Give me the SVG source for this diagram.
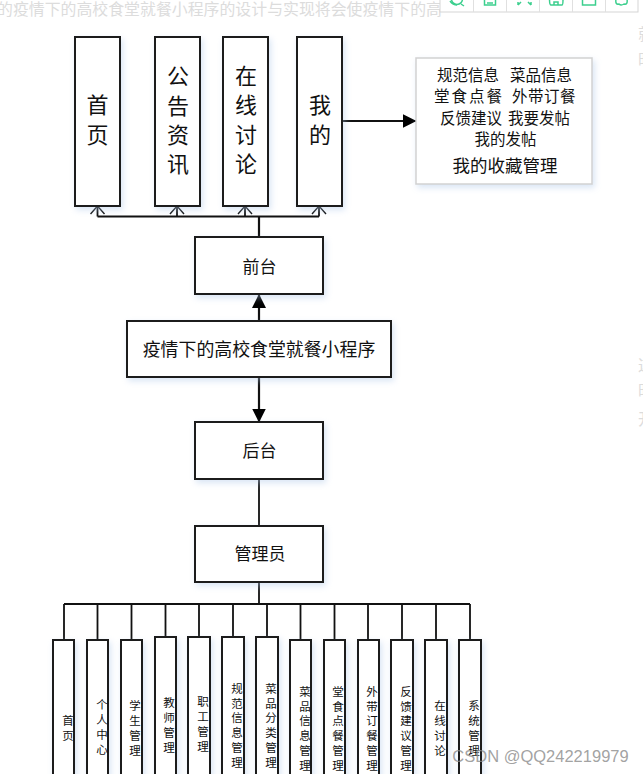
<svg xmlns="http://www.w3.org/2000/svg" width="643" height="774" viewBox="0 0 643 774">
<style>
text{font-family:"Noto Sans CJK SC","Liberation Sans",sans-serif;fill:#111;text-anchor:middle}
.b{fill:#fff;stroke:#1a1a1a;stroke-width:2;filter:url(#s)}
.t{font-size:17px}.v{font-size:22px}.m{font-size:11.500px}.p{font-size:15.500px}
.c{fill:none;stroke:#111;stroke-width:1.800}.h{stroke-width:2.200}
.bg{font-size:15.900px;fill:#dcdcdc;text-anchor:start}
.i{fill:none;stroke:#3ccf8e;stroke-width:1.500}
</style>
<defs>
<filter id="s" x="-30%" y="-30%" width="170%" height="160%"><feDropShadow dx="2" dy="3" stdDeviation="3" flood-color="#a9c4e8" flood-opacity=".45"/></filter>
<marker id="f" markerUnits="userSpaceOnUse" markerWidth="14" markerHeight="14" refX="13.500" refY="7" orient="auto"><path d="M0 0L14 7L0 14Z" fill="#000"/></marker>
<marker id="o" markerUnits="userSpaceOnUse" markerWidth="12" markerHeight="16" refX="9" refY="8" orient="auto"><path d="M1 1L9 8L1 15" fill="none" stroke="#111" stroke-width="1.400"/></marker>
</defs>
<g id="page-background">
<text class="bg" x="-3" y="15">的疫情下的高校食堂就餐小程序的设计与实现将会使疫情下的高</text>
<text class="bg" x="638" y="40">就</text><text class="bg" x="638" y="65">时</text>
<text class="bg" x="638" y="371">这</text><text class="bg" x="638" y="396">时</text><text class="bg" x="638" y="425">开</text>
<rect x="440" y="-2" width="198" height="14" fill="#fff" stroke="#d5d5d5"/>
<path d="M473.500 0V12M506.500 0V12M539.500 0V12M572.500 0V12M605.500 0V12" stroke="#e0e0e0"/>
<circle cx="457" cy="-1" r="5.500" class="i"/><path d="M461 4L464 6M450 1Q453 5 457 5" class="i"/>
<path d="M484.500 -1V5H495.500V-1M487 3H493" class="i"/>
<path d="M518 5L521 2M528 2L531 5M518 5V2M531 5V2" class="i"/>
<path d="M549.500 -1Q549.500 5 551 5H562Q563 5 563 -1M554 5V2H558V5" class="i"/>
<path d="M582.500 -1V5H595.500V-1" class="i"/>
<path d="M616 -1Q615 5 619 4Q621 6 624 4Q628 5 627 -1" class="i"/>
</g>
<g id="connectors">
<path class="c h" d="M259 237V216.500M97.500 216.500H319"/>
<path class="c" d="M97.500 216.500V206" marker-end="url(#o)"/>
<path class="c" d="M177 216.500V206" marker-end="url(#o)"/>
<path class="c" d="M245 216.500V206" marker-end="url(#o)"/>
<path class="c" d="M319 216.500V206" marker-end="url(#o)"/>
<path class="c h" d="M342 121H416" marker-end="url(#f)"/>
<path class="c h" d="M259 321V294.500" marker-end="url(#f)"/>
<path class="c h" d="M259 377V422" marker-end="url(#f)"/>
<path class="c" d="M259 479V526M259 582V604M64 604H470"/>
<path class="c" d="M64 604V640M97.500 604V640M131.500 604V640M165.500 604V637M199 604V637M233 604V637M267 604V637M300.500 604V640M334.500 604V640M368 604V640M402 604V640M436 604V640M470 604V640"/>
</g>
<g id="n-home"><rect class="b" x="75" y="37" width="45" height="169"/><text class="v" x="97.500" y="113">首</text><text class="v" x="97.500" y="143">页</text></g>
<g id="n-notice"><rect class="b" x="155" y="37" width="45" height="169"/><text class="v" x="178" y="84">公</text><text class="v" x="178" y="114">告</text><text class="v" x="178" y="143">资</text><text class="v" x="178" y="172">讯</text></g>
<g id="n-forum"><rect class="b" x="223" y="37" width="45" height="169"/><text class="v" x="246" y="84">在</text><text class="v" x="246" y="113">线</text><text class="v" x="246" y="143">讨</text><text class="v" x="246" y="172">论</text></g>
<g id="n-mine"><rect class="b" x="297" y="37" width="45" height="169"/><text class="v" x="320" y="113">我</text><text class="v" x="320" y="143">的</text></g>
<g id="n-panel"><rect x="416" y="58" width="176" height="126" fill="#fff" stroke="#d2d2d2" stroke-width="1.500" filter="url(#s)"/>
<text class="p" x="504.500" y="81"><tspan>规范信息</tspan><tspan dx="11">菜品信息</tspan></text>
<text class="p" x="505" y="102"><tspan letter-spacing="2">堂食点餐</tspan><tspan dx="8" letter-spacing=".5">外带订餐</tspan></text>
<text class="p" x="505" y="124"><tspan>反馈建议</tspan><tspan dx="6">我要发帖</tspan></text>
<text class="p" x="505.500" y="145">我的发帖</text>
<text x="505" y="172" font-size="17.500">我的收藏管理</text></g>
<g id="n-front"><rect class="b" x="195" y="237" width="128" height="57"/><text class="t" x="259.500" y="273">前台</text></g>
<g id="n-main"><rect class="b" x="127" y="321" width="264" height="56"/><text x="259" y="356" font-size="17.900">疫情下的高校食堂就餐小程序</text></g>
<g id="n-back"><rect class="b" x="195" y="422" width="128" height="57"/><text class="t" x="259.500" y="457">后台</text></g>
<g id="n-admin"><rect class="b" x="195" y="526" width="128" height="56"/><text class="t" x="260" y="560">管理员</text></g>
<g id="n-m1"><rect class="b" x="53" y="640" width="21" height="150"/><text class="m" x="68" y="725"><tspan x="68">首</tspan><tspan x="68" dy="15">页</tspan></text></g>
<g id="n-m2"><rect class="b" x="87" y="640" width="21" height="150"/><text class="m" x="102" y="709"><tspan x="102">个</tspan><tspan x="102" dy="15">人</tspan><tspan x="102" dy="15">中</tspan><tspan x="102" dy="15">心</tspan></text></g>
<g id="n-m3"><rect class="b" x="121" y="640" width="21" height="150"/><text class="m" x="135" y="710"><tspan x="135">学</tspan><tspan x="135" dy="15">生</tspan><tspan x="135" dy="15">管</tspan><tspan x="135" dy="15">理</tspan></text></g>
<g id="n-m4"><rect class="b" x="155" y="637" width="21" height="150"/><text class="m" x="169" y="707"><tspan x="169">教</tspan><tspan x="169" dy="15">师</tspan><tspan x="169" dy="15">管</tspan><tspan x="169" dy="15">理</tspan></text></g>
<g id="n-m5"><rect class="b" x="188" y="637" width="22" height="150"/><text class="m" x="203" y="706"><tspan x="203">职</tspan><tspan x="203" dy="15">工</tspan><tspan x="203" dy="15">管</tspan><tspan x="203" dy="15">理</tspan></text></g>
<g id="n-m6"><rect class="b" x="222" y="637" width="22" height="150"/><text class="m" x="237" y="693"><tspan x="237">规</tspan><tspan x="237" dy="14.700">范</tspan><tspan x="237" dy="14.700">信</tspan><tspan x="237" dy="14.700">息</tspan><tspan x="237" dy="14.700">管</tspan><tspan x="237" dy="14.700">理</tspan></text></g>
<g id="n-m7"><rect class="b" x="256" y="637" width="22" height="150"/><text class="m" x="271" y="693"><tspan x="271">菜</tspan><tspan x="271" dy="14.700">品</tspan><tspan x="271" dy="14.700">分</tspan><tspan x="271" dy="14.700">类</tspan><tspan x="271" dy="14.700">管</tspan><tspan x="271" dy="14.700">理</tspan></text></g>
<g id="n-m8"><rect class="b" x="290" y="640" width="21" height="150"/><text class="m" x="305" y="696"><tspan x="305">菜</tspan><tspan x="305" dy="14.700">品</tspan><tspan x="305" dy="14.700">信</tspan><tspan x="305" dy="14.700">息</tspan><tspan x="305" dy="14.700">管</tspan><tspan x="305" dy="14.700">理</tspan></text></g>
<g id="n-m9"><rect class="b" x="324" y="640" width="21" height="150"/><text class="m" x="338" y="696"><tspan x="338">堂</tspan><tspan x="338" dy="14.700">食</tspan><tspan x="338" dy="14.700">点</tspan><tspan x="338" dy="14.700">餐</tspan><tspan x="338" dy="14.700">管</tspan><tspan x="338" dy="14.700">理</tspan></text></g>
<g id="n-m10"><rect class="b" x="358" y="640" width="21" height="150"/><text class="m" x="372" y="696"><tspan x="372">外</tspan><tspan x="372" dy="14.700">带</tspan><tspan x="372" dy="14.700">订</tspan><tspan x="372" dy="14.700">餐</tspan><tspan x="372" dy="14.700">管</tspan><tspan x="372" dy="14.700">理</tspan></text></g>
<g id="n-m11"><rect class="b" x="391" y="640" width="22" height="150"/><text class="m" x="406" y="696"><tspan x="406">反</tspan><tspan x="406" dy="14.700">馈</tspan><tspan x="406" dy="14.700">建</tspan><tspan x="406" dy="14.700">议</tspan><tspan x="406" dy="14.700">管</tspan><tspan x="406" dy="14.700">理</tspan></text></g>
<g id="n-m12"><rect class="b" x="425" y="640" width="22" height="150"/><text class="m" x="440" y="710"><tspan x="440">在</tspan><tspan x="440" dy="15">线</tspan><tspan x="440" dy="15">讨</tspan><tspan x="440" dy="15">论</tspan></text></g>
<g id="n-m13"><rect class="b" x="459" y="640" width="22" height="150"/><text class="m" x="474" y="710"><tspan x="474">系</tspan><tspan x="474" dy="15">统</tspan><tspan x="474" dy="15">管</tspan><tspan x="474" dy="15">理</tspan></text></g>
<text id="watermark" x="540.500" y="762" font-size="16.500" style="font-family:'Liberation Sans',sans-serif;fill:#8a8a8a;fill-opacity:.8">CSDN @QQ242219979</text>
</svg>
